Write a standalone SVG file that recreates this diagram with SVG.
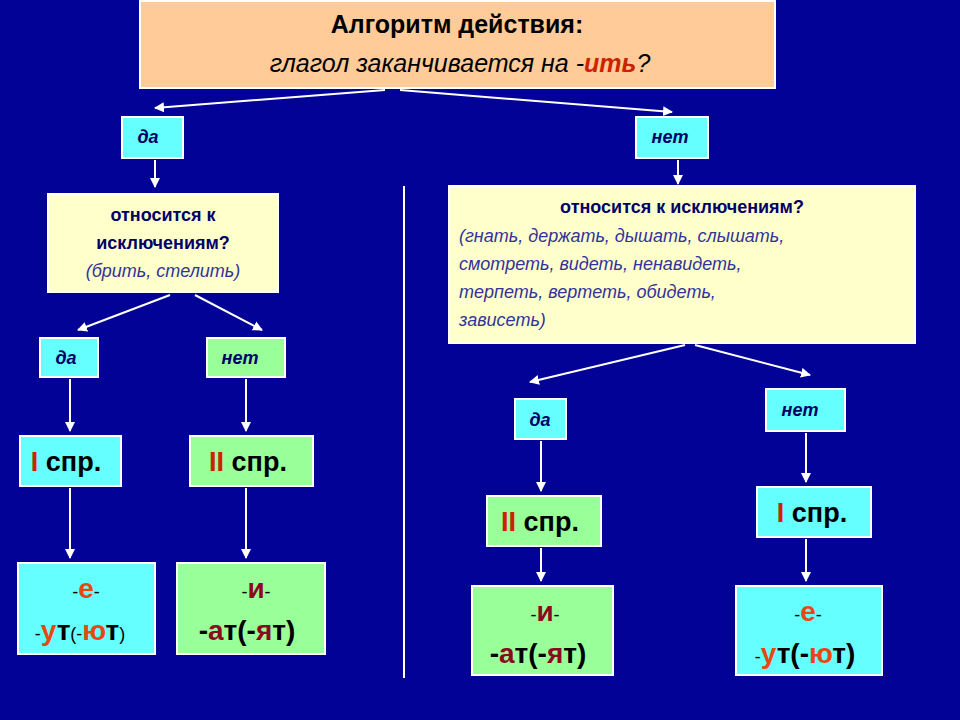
<svg xmlns="http://www.w3.org/2000/svg" width="960" height="720" viewBox="0 0 960 720">
<defs>
<style>
text{font-family:"Liberation Sans",Arial,sans-serif;text-anchor:middle}
text.st{text-anchor:start}
.box{stroke:#fff;stroke-width:2}
.cy{fill:#66FFFF}.gr{fill:#99FF99}.ye{fill:#FFFFCC}
.ans{font-size:18px;font-weight:bold;font-style:italic;fill:#000066}
.q{font-size:18px;font-weight:bold;fill:#000066}
.qi{font-size:18px;font-style:italic;fill:#333399}
.sp{font-size:27px;font-weight:bold;fill:#000}
.r{fill:#CC2200}
.end{font-size:28px;font-weight:bold;fill:#000}
.sm{font-size:18px;font-weight:normal}
.ln{stroke:#fff;stroke-width:2;fill:none}
</style>
<marker id="a" viewBox="0 0 10 10" refX="9" refY="5" markerWidth="5" markerHeight="5" orient="auto"><path d="M0,0L10,5L0,10z" fill="#fff"/></marker>
</defs>
<rect width="960" height="720" fill="#020396"/>
<g id="title"><rect class="box" x="140" y="1" width="635" height="87" fill="#FFCC99"/>
<text x="457" y="33" font-size="25" font-weight="bold">Алгоритм  действия:</text>
<text x="460" y="72" font-size="25" font-style="italic">глагол заканчивается на   -<tspan fill="#CC2200" font-weight="bold">ить</tspan>?</text></g>
<g id="yes1"><rect class="box cy" x="122" y="117" width="61" height="41"/><text class="ans" x="148" y="143">да</text></g>
<g id="no1"><rect class="box cy" x="636" y="117" width="72" height="41"/><text class="ans" x="670" y="143">нет</text></g>
<g id="qL"><rect class="box ye" x="48" y="194" width="230" height="98"/>
<text class="q" x="163" y="221">относится к</text><text class="q" x="163" y="249">исключениям?</text><text class="qi" x="163" y="277">(брить, стелить)</text></g>
<g id="qR"><rect class="box ye" x="449" y="186" width="466" height="157"/>
<text class="q" x="682" y="213">относится к исключениям?</text>
<text class="qi st" x="459" y="242">(гнать, держать, дышать, слышать,</text>
<text class="qi st" x="459" y="270">смотреть, видеть, ненавидеть,</text>
<text class="qi st" x="459" y="298">терпеть, вертеть, обидеть,</text>
<text class="qi st" x="459" y="326">зависеть)</text></g>
<g id="yesL"><rect class="box cy" x="40" y="338" width="58" height="39"/><text class="ans" x="66" y="364">да</text></g>
<g id="noL"><rect class="box gr" x="207" y="338" width="78" height="39"/><text class="ans" x="240" y="364">нет</text></g>
<g id="c1L"><rect class="box cy" x="20" y="436" width="101" height="50"/><text class="sp" x="66" y="471"><tspan class="r">I</tspan> спр.</text></g>
<g id="c2L"><rect class="box gr" x="190" y="436" width="123" height="50"/><text class="sp" x="248" y="471"><tspan class="r">II</tspan> спр.</text></g>
<g id="eL"><rect class="box cy" x="18" y="563" width="137" height="91"/>
<text class="end" x="86" y="598"><tspan class="sm">-</tspan><tspan fill="#E84810">е</tspan><tspan class="sm">-</tspan></text>
<text class="end" x="80" y="640"><tspan class="sm">-</tspan><tspan fill="#E84810">у</tspan>т<tspan class="sm">(-</tspan><tspan fill="#E84810">ю</tspan>т<tspan class="sm">)</tspan></text></g>
<g id="iL"><rect class="box gr" x="177" y="563" width="148" height="91"/>
<text class="end" x="256" y="598"><tspan class="sm">-</tspan><tspan fill="#8B0A1E">и</tspan><tspan class="sm">-</tspan></text>
<text class="end" x="247" y="640">-<tspan fill="#8B0A1E">а</tspan>т(-<tspan fill="#8B0A1E">я</tspan>т)</text></g>
<g id="yesR"><rect class="box cy" x="515" y="399" width="51" height="40"/><text class="ans" x="540" y="426">да</text></g>
<g id="noR"><rect class="box cy" x="766" y="389" width="79" height="42"/><text class="ans" x="800" y="416">нет</text></g>
<g id="c2R"><rect class="box gr" x="487" y="496" width="114" height="50"/><text class="sp" x="540" y="531"><tspan class="r">II</tspan> спр.</text></g>
<g id="c1R"><rect class="box cy" x="757" y="487" width="114" height="50"/><text class="sp" x="812" y="522"><tspan class="r">I</tspan> спр.</text></g>
<g id="iR"><rect class="box gr" x="472" y="586" width="141" height="89"/>
<text class="end" x="545" y="621"><tspan class="sm">-</tspan><tspan fill="#8B0A1E">и</tspan><tspan class="sm">-</tspan></text>
<text class="end" x="538" y="663">-<tspan fill="#8B0A1E">а</tspan>т(-<tspan fill="#8B0A1E">я</tspan>т)</text></g>
<g id="eR"><rect class="box cy" x="736" y="586" width="146" height="89"/>
<text class="end" x="808" y="621"><tspan class="sm">-</tspan><tspan fill="#E84810">е</tspan><tspan class="sm">-</tspan></text>
<text class="end" x="805" y="663"><tspan class="sm">-</tspan><tspan fill="#E84810">у</tspan>т(-<tspan fill="#E84810">ю</tspan>т)</text></g>
<g id="connectors" class="ln">
<line x1="385" y1="90" x2="155" y2="108" class="ln" marker-end="url(#a)"/>
<line x1="400" y1="90" x2="672" y2="112" class="ln" marker-end="url(#a)"/>
<line x1="155" y1="160" x2="155" y2="187" class="ln" marker-end="url(#a)"/>
<line x1="678" y1="160" x2="678" y2="184" class="ln" marker-end="url(#a)"/>
<line x1="404" y1="186" x2="404" y2="678" class="ln"/>
<line x1="170" y1="295" x2="78" y2="330" class="ln" marker-end="url(#a)"/>
<line x1="195" y1="295" x2="262" y2="330" class="ln" marker-end="url(#a)"/>
<line x1="685" y1="345" x2="530" y2="382" class="ln" marker-end="url(#a)"/>
<line x1="695" y1="345" x2="810" y2="375" class="ln" marker-end="url(#a)"/>
<line x1="70" y1="379" x2="70" y2="431" class="ln" marker-end="url(#a)"/>
<line x1="246" y1="379" x2="246" y2="431" class="ln" marker-end="url(#a)"/>
<line x1="541" y1="441" x2="541" y2="491" class="ln" marker-end="url(#a)"/>
<line x1="806" y1="433" x2="806" y2="482" class="ln" marker-end="url(#a)"/>
<line x1="70" y1="488" x2="70" y2="558" class="ln" marker-end="url(#a)"/>
<line x1="246" y1="488" x2="246" y2="558" class="ln" marker-end="url(#a)"/>
<line x1="541" y1="548" x2="541" y2="581" class="ln" marker-end="url(#a)"/>
<line x1="806" y1="539" x2="806" y2="581" class="ln" marker-end="url(#a)"/>
</g>
</svg>
